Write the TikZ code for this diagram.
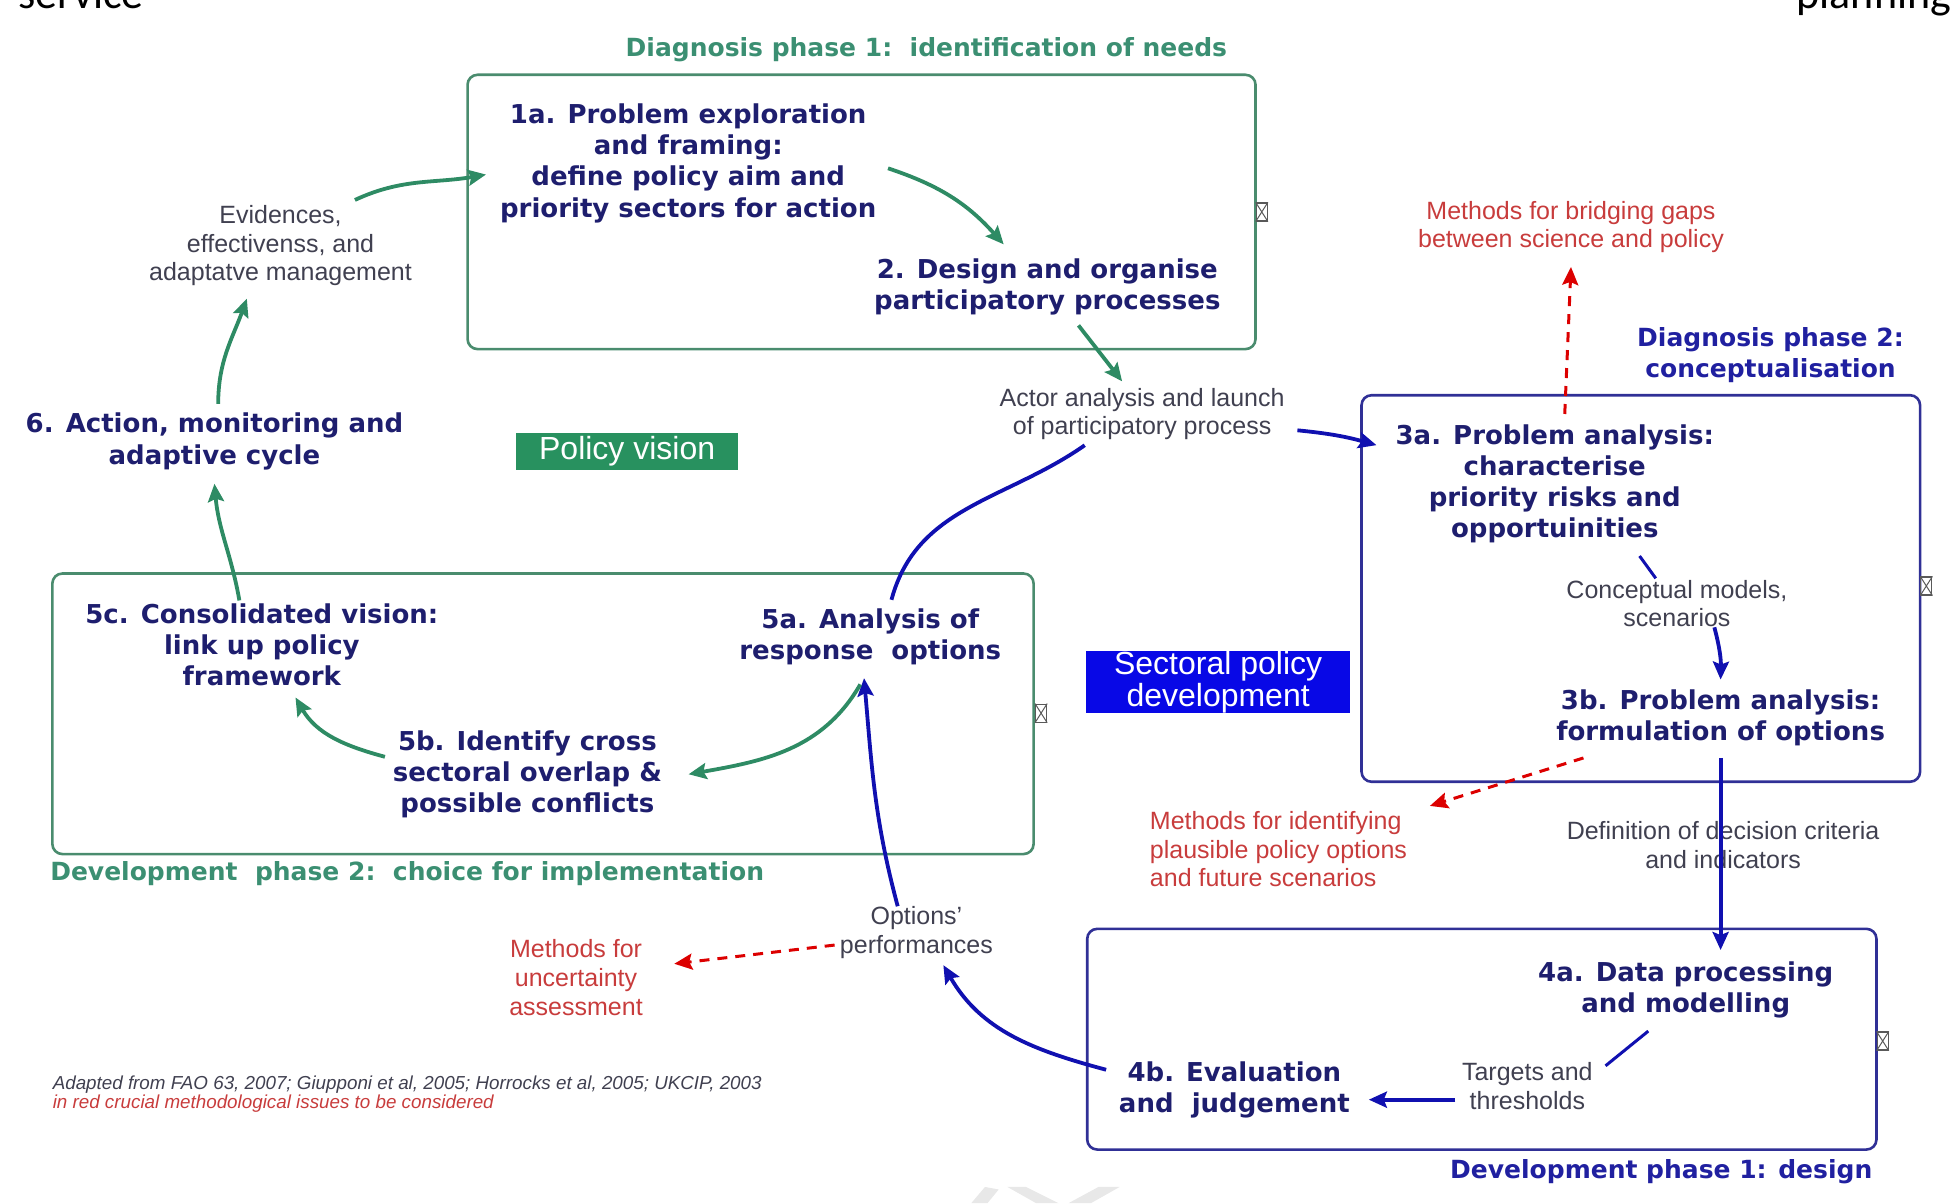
\documentclass[tikz,border=0pt]{standalone}
\usepackage{fontspec}
\setmainfont{Liberation Sans}
\newfontfamily\dv{DejaVu Sans}
\newfontfamily\carl{Carlito}
\usetikzlibrary{arrows.meta,calc}
\definecolor{navy}{RGB}{30,30,110}
\definecolor{gtitle}{RGB}{59,143,114}
\definecolor{gbord}{RGB}{74,140,110}
\definecolor{garr}{RGB}{46,139,100}
\definecolor{barr}{RGB}{16,16,176}
\definecolor{bbord}{RGB}{48,48,150}
\definecolor{btitle}{RGB}{32,32,160}
\definecolor{sectfill}{RGB}{8,8,230}
\definecolor{pvfill}{RGB}{40,145,95}
\definecolor{rtext}{RGB}{200,60,60}
\definecolor{rarr}{RGB}{220,0,0}
\definecolor{gtext}{RGB}{64,64,80}
\tikzset{
  bt/.style={font=\dv\bfseries\fontsize{13}{15.6}\selectfont, text=navy, align=center, inner sep=0pt},
  ttl/.style={font=\dv\bfseries\fontsize{12.5}{15.6}\selectfont, inner sep=0pt},
  st/.style={font=\fontsize{12.5}{14.3}\selectfont, text=gtext, align=center, inner sep=0pt},
  rt/.style={st, text=rtext},
  garrow/.style={draw=garr, line width=1.9pt, -{Stealth[length=9pt,width=8pt,inset=1.5pt]}},
  barrow/.style={draw=barr, line width=1.9pt, -{Stealth[length=9pt,width=8pt,inset=1.5pt]}},
  bline/.style={draw=barr, line width=1.9pt},
  rdash/.style={draw=rarr, line width=1.5pt, dash pattern=on 5pt off 4pt, -{Stealth[length=9pt,width=8pt,inset=1.5pt]}},
  gbox/.style={draw=gbord, line width=1.3pt, rounded corners=5pt},
  bbox/.style={draw=bbord, line width=1.3pt, rounded corners=5pt},
  icon/.style={draw=gray!70!black, line width=0.6pt, minimum width=5.5pt, minimum height=9pt, inner sep=0pt},
  fnote/.style={font=\itshape\fontsize{9.4}{9.4}\selectfont, anchor=west, inner sep=0pt}
}
\begin{document}
\begin{tikzpicture}[x=0.6234pt,y=0.6234pt]
\useasboundingbox (0,0) rectangle (1568,965);
% cut-off words at top
\node[font=\carl\fontsize{22}{26}\selectfont, anchor=base, inner sep=0pt] (svc) at (65,958) {service};
\node[font=\carl\fontsize{22}{26}\selectfont, anchor=base, inner sep=0pt] (plan) at (1503,958) {planning};
% faint watermark at bottom
\fill[gray!18] (779,0) -- (792,0) -- (801,11) -- (790,13) -- cycle;
\fill[gray!18] (808,13) -- (823,13) -- (849,0) -- (831,0) -- cycle;
\fill[gray!18] (857,0) -- (875,0) -- (898,13) -- (881,13) -- cycle;

% boxes
\draw[gbox] (375,905) rectangle (1007,685);
\draw[bbox] (1092,648) rectangle (1540,338);
\draw[bbox] (872,220) rectangle (1505,43);
\draw[gbox] (42,505) rectangle (829,280);
% small icons
\node[icon] (ic1) at (1012,795) {};
\node[icon] (ic2) at (1545,495) {};
\node[icon] (ic3) at (835,393) {};
\node[icon] (ic4) at (1510,130) {};
\foreach \i in {ic1,ic2,ic3,ic4}{\draw[gray!70!black,line width=0.5pt] (\i.north west)--(\i.south east) (\i.north east)--(\i.south west);}

% titles
\node[ttl, text=gtitle] (t1) at (743,925) {Diagnosis phase 1:\ \ identification of needs};
\node[ttl, text=btitle, align=center] (t2) at (1420,680) {Diagnosis phase 2:\\conceptualisation};
\node[ttl, text=btitle, anchor=east] (t4) at (1502,25) {Development phase 1: design};
\node[ttl, text=gtitle, anchor=west] (t5) at (40,264) {Development\ \ phase 2:\ \ choice for implementation};

% labels
\node[fill=pvfill, text=white, font=\fontsize{16}{18}\selectfont, minimum width=111pt, minimum height=18.7pt, inner sep=0pt] (pv) at (503,603) {Policy vision};
\node[fill=sectfill, text=white, font=\fontsize{16}{12.5}\selectfont, align=center, minimum width=132pt, minimum height=31pt, inner sep=0pt] (sect) at (977,418) {Sectoral policy\\development};

% main step nodes
\node[bt] (n1a) at (552,834) {1a. Problem exploration\\and framing:\\define policy aim and\\priority sectors for action};
\node[bt] (n2) at (840,735) {2. Design and organise\\participatory processes};
\node[bt] (n3a) at (1247,577) {3a. Problem analysis:\\characterise\\priority risks and\\opportuinities};
\node[bt] (n3b) at (1380,389) {3b. Problem analysis:\\formulation of options};
\node[bt] (n4a) at (1352,171) {4a. Data processing\\and modelling};
\node[bt] (n4b) at (990,91) {4b. Evaluation\\and\ \ judgement};
\node[bt] (n5a) at (698,454) {5a. Analysis of\\response\ \ options};
\node[bt] (n5b) at (423,344) {5b. Identify cross\\sectoral overlap \&\\possible conflicts};
\node[bt] (n5c) at (210,448) {5c. Consolidated vision:\\link up policy\\framework};
\node[bt] (n6) at (172,611) {6. Action, monitoring and\\adaptive cycle};

% small text nodes
\node[st] (evid) at (225,768) {Evidences,\\effectivenss, and\\adaptatve management};
\node[st] (actor) at (916,633) {Actor analysis and launch\\of participatory process};
\node[st] (cm) at (1345,481) {Conceptual models,\\scenarios};
\node[st] (ddc) at (1382,287) {Definition of decision criteria\\and indicators};
\node[st] (tt) at (1225,94) {Targets and\\thresholds};
\node[st] (opt) at (735,217) {Options'\\performances};
\node[rt] (mbridge) at (1260,783) {Methods for bridging gaps\\between science and policy};
\node[rt, align=left, anchor=west] (mident) at (922,284) {Methods for identifying\\plausible policy options\\and future scenarios};
\node[rt] (munc) at (462,181) {Methods for\\uncertainty\\assessment};

% footnote
\node[fnote, text=gtext] (fn1) at (42,95) {Adapted from FAO 63, 2007; Giupponi et al, 2005; Horrocks et al, 2005; UKCIP, 2003};
\node[fnote, text=rtext] (fn2) at (42,80) {in red crucial methodological issues to be considered};

% connectors
\draw[garrow] ($(n1a.east)+(9,-4)$) to[bend left=15] ($(n2.north)+(-35,11)$);
\draw[garrow] ($(n2.south)+(25,-8)$) to ($(actor.north)+(-16,5)$);
\draw[barrow] ($(actor.south east)+(10,8)$) to[bend left=5] ($(n3a.north west)+(-15,-17)$);
\draw[bline] ($(n5a.north)+(17,7)$) to[out=75,in=215] ($(actor.south)+(-46,-4)$);
\draw[rdash] ($(n3a.north)+(8,8)$) -- ($(mbridge.south)+(0,-11)$);
\draw[bline, line width=1.5pt] ($(n3a.south)+(68,-10)$) -- ($(cm.north)+(-17,1)$);
\draw[barrow] ($(cm.south)+(30,0)$) to[bend left=8] ($(n3b.north)+(0,8)$);
\draw[rdash] ($(n3b.south)+(-110,-9)$) -- ($(mident.north east)+(18,4)$);
\draw[barrow] ($(n3b.south)+(0,-9)$) -- ($(n4a.north)+(28,9)$);
\draw[bline, line width=1.5pt] ($(n4a.south)+(-30,-10)$) -- ($(tt.north east)+(10,-3)$);
\draw[barrow] ($(tt.west)+(-5,-11)$) -- ($(n4b.east)+(15,-8)$);
\draw[barrow] ($(n4b.west)+(-10,16)$) to[out=165,in=-60] ($(opt.south east)+(-40,-5)$);
\draw[barrow] ($(opt.north)+(-15,0)$) to[out=105,in=-85] ($(n5a.south)+(-5,-10)$);
\draw[rdash] ($(opt.west)+(-4,-10)$) -- ($(munc.east)+(25,11)$);
\draw[garrow] ($(n5a.south)+(-8,-15)$) to[out=240,in=10] ($(n5b.east)+(21,0)$);
\draw[garrow] ($(n5b.west)+(-6,14)$) to[out=165,in=-60] ($(n5c.south)+(27,-9)$);
\draw[garrow] ($(n5c.north)+(-18,2)$) to[out=100,in=-85] ($(n6.south)+(0,-11)$);
\draw[garrow] ($(n6.north)+(3,7)$) to[out=90,in=-110] ($(evid.south)+(-27,-10)$);
\draw[garrow] ($(evid.north east)+(-46,4)$) to[out=25,in=190] ($(n1a.west)+(-11,-9)$);
\end{tikzpicture}
\end{document}
